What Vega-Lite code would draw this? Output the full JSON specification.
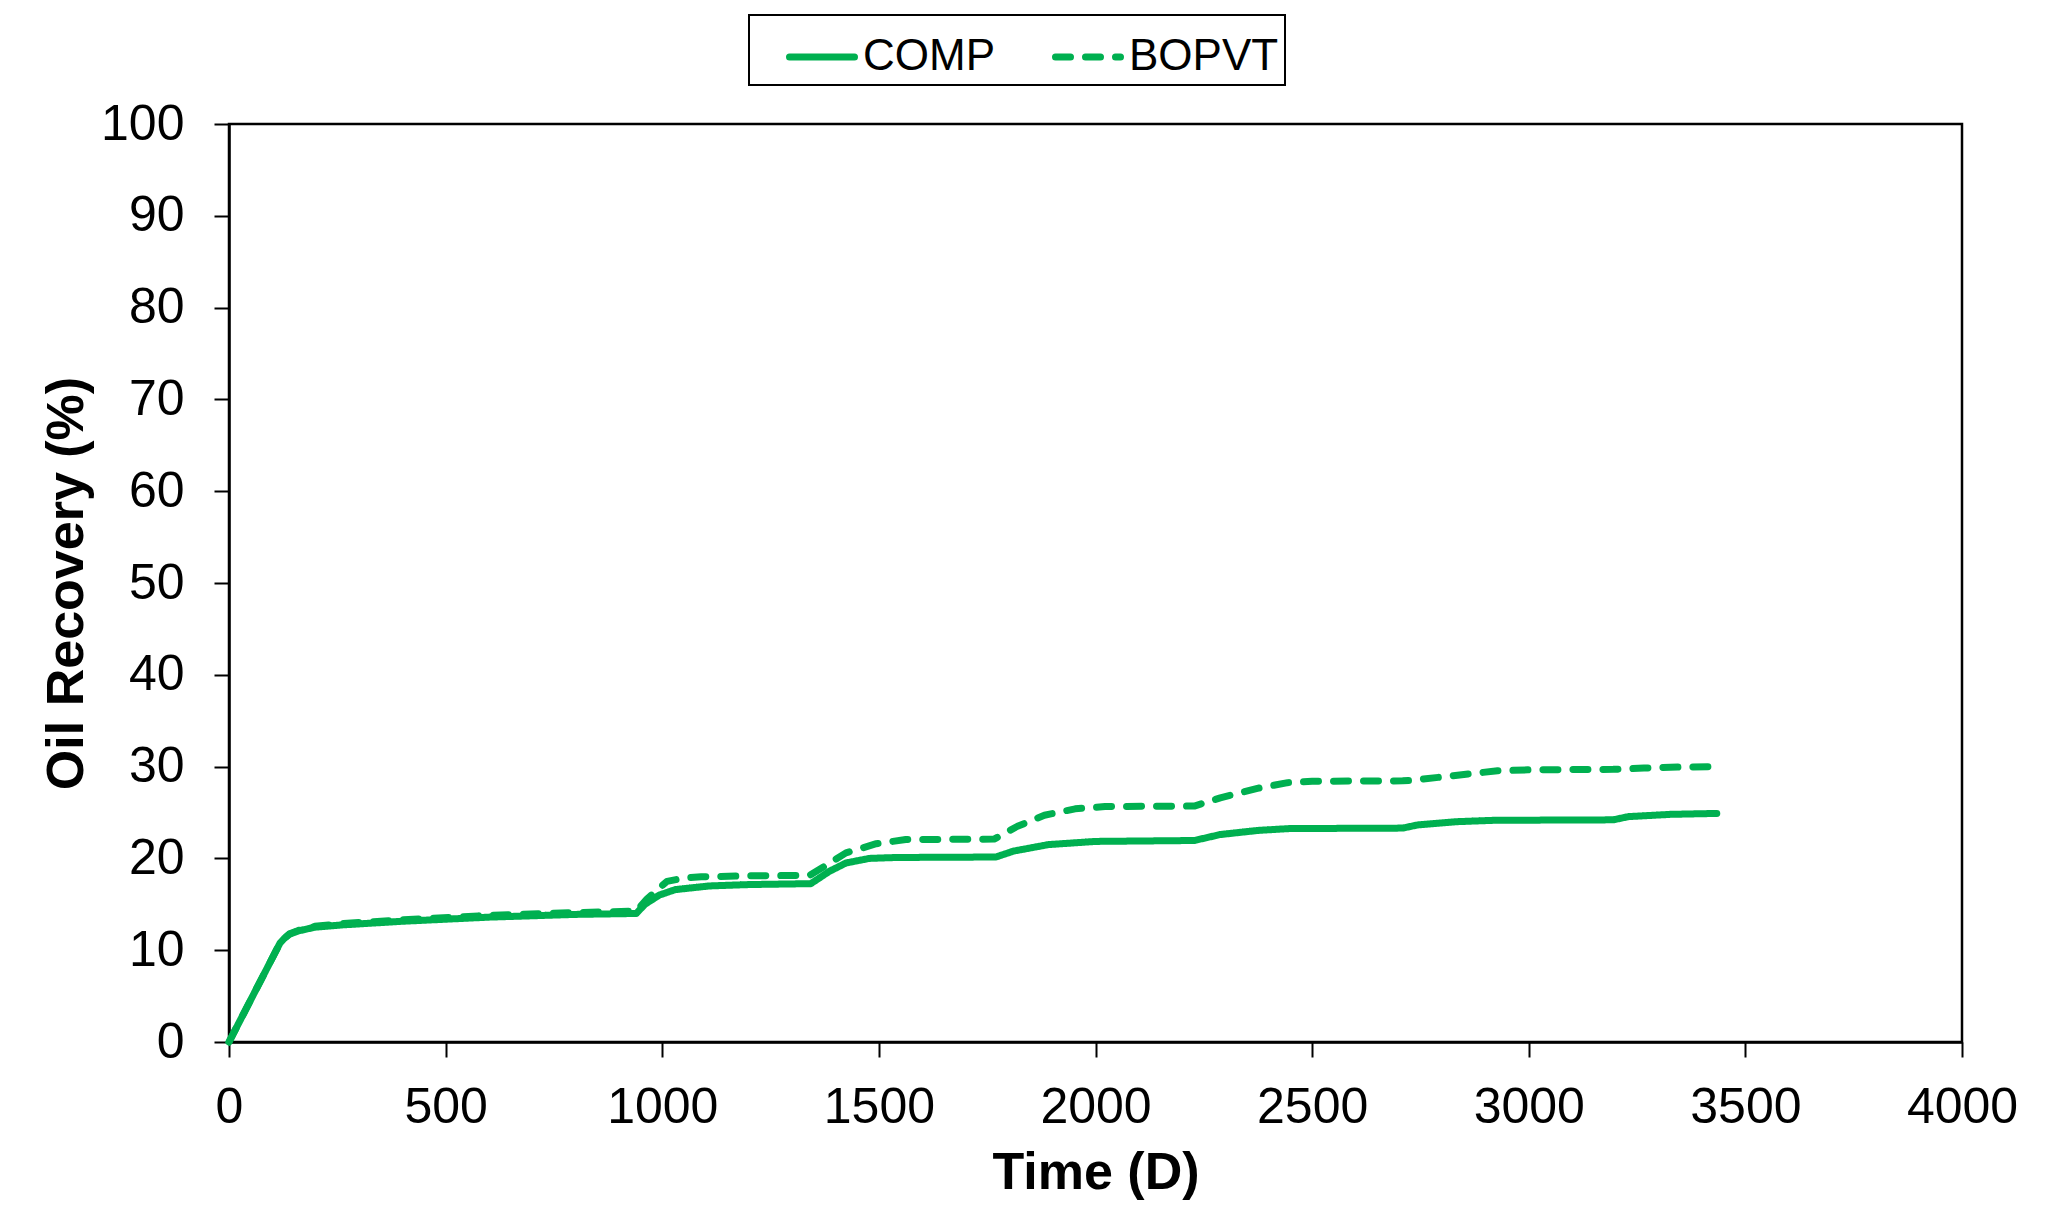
{
  "$schema": "https://vega.github.io/schema/vega-lite/v6.json",
  "width": 1733,
  "height": 918,
  "autosize": {"type": "none"},
  "padding": {"left": 229, "top": 124, "right": 86, "bottom": 189},
  "background": "white",
  "data": {
    "values": [
      {"t": 0, "r": 0, "s": "COMP"},
      {"t": 118, "r": 10.8, "s": "COMP"},
      {"t": 128, "r": 11.3, "s": "COMP"},
      {"t": 140, "r": 11.75, "s": "COMP"},
      {"t": 160, "r": 12.1, "s": "COMP"},
      {"t": 198, "r": 12.5, "s": "COMP"},
      {"t": 260, "r": 12.75, "s": "COMP"},
      {"t": 400, "r": 13.15, "s": "COMP"},
      {"t": 600, "r": 13.6, "s": "COMP"},
      {"t": 800, "r": 13.9, "s": "COMP"},
      {"t": 940, "r": 14.0, "s": "COMP"},
      {"t": 960, "r": 15.0, "s": "COMP"},
      {"t": 993, "r": 16.0, "s": "COMP"},
      {"t": 1030, "r": 16.6, "s": "COMP"},
      {"t": 1109, "r": 17.0, "s": "COMP"},
      {"t": 1200, "r": 17.15, "s": "COMP"},
      {"t": 1343, "r": 17.25, "s": "COMP"},
      {"t": 1386, "r": 18.6, "s": "COMP"},
      {"t": 1424, "r": 19.5, "s": "COMP"},
      {"t": 1478, "r": 20.0, "s": "COMP"},
      {"t": 1540, "r": 20.1, "s": "COMP"},
      {"t": 1770, "r": 20.15, "s": "COMP"},
      {"t": 1811, "r": 20.8, "s": "COMP"},
      {"t": 1891, "r": 21.5, "s": "COMP"},
      {"t": 2000, "r": 21.85, "s": "COMP"},
      {"t": 2228, "r": 21.95, "s": "COMP"},
      {"t": 2288, "r": 22.6, "s": "COMP"},
      {"t": 2376, "r": 23.05, "s": "COMP"},
      {"t": 2448, "r": 23.25, "s": "COMP"},
      {"t": 2709, "r": 23.3, "s": "COMP"},
      {"t": 2744, "r": 23.65, "s": "COMP"},
      {"t": 2833, "r": 24.0, "s": "COMP"},
      {"t": 2921, "r": 24.15, "s": "COMP"},
      {"t": 3195, "r": 24.2, "s": "COMP"},
      {"t": 3230, "r": 24.55, "s": "COMP"},
      {"t": 3328, "r": 24.8, "s": "COMP"},
      {"t": 3434, "r": 24.9, "s": "COMP"},
      {"t": 0, "r": 0, "s": "BOPVT"},
      {"t": 118, "r": 10.8, "s": "BOPVT"},
      {"t": 128, "r": 11.3, "s": "BOPVT"},
      {"t": 140, "r": 11.8, "s": "BOPVT"},
      {"t": 160, "r": 12.15, "s": "BOPVT"},
      {"t": 198, "r": 12.6, "s": "BOPVT"},
      {"t": 260, "r": 12.9, "s": "BOPVT"},
      {"t": 400, "r": 13.3, "s": "BOPVT"},
      {"t": 600, "r": 13.8, "s": "BOPVT"},
      {"t": 800, "r": 14.1, "s": "BOPVT"},
      {"t": 940, "r": 14.25, "s": "BOPVT"},
      {"t": 965, "r": 15.6, "s": "BOPVT"},
      {"t": 1011, "r": 17.5, "s": "BOPVT"},
      {"t": 1050, "r": 17.85, "s": "BOPVT"},
      {"t": 1090, "r": 18.0, "s": "BOPVT"},
      {"t": 1200, "r": 18.1, "s": "BOPVT"},
      {"t": 1340, "r": 18.15, "s": "BOPVT"},
      {"t": 1370, "r": 19.0, "s": "BOPVT"},
      {"t": 1424, "r": 20.6, "s": "BOPVT"},
      {"t": 1494, "r": 21.6, "s": "BOPVT"},
      {"t": 1562, "r": 22.05, "s": "BOPVT"},
      {"t": 1766, "r": 22.1, "s": "BOPVT"},
      {"t": 1820, "r": 23.5, "s": "BOPVT"},
      {"t": 1882, "r": 24.7, "s": "BOPVT"},
      {"t": 1953, "r": 25.4, "s": "BOPVT"},
      {"t": 2022, "r": 25.65, "s": "BOPVT"},
      {"t": 2228, "r": 25.7, "s": "BOPVT"},
      {"t": 2288, "r": 26.6, "s": "BOPVT"},
      {"t": 2376, "r": 27.65, "s": "BOPVT"},
      {"t": 2444, "r": 28.25, "s": "BOPVT"},
      {"t": 2500, "r": 28.4, "s": "BOPVT"},
      {"t": 2709, "r": 28.45, "s": "BOPVT"},
      {"t": 2727, "r": 28.5, "s": "BOPVT"},
      {"t": 2796, "r": 28.85, "s": "BOPVT"},
      {"t": 2863, "r": 29.2, "s": "BOPVT"},
      {"t": 2928, "r": 29.55, "s": "BOPVT"},
      {"t": 3000, "r": 29.65, "s": "BOPVT"},
      {"t": 3195, "r": 29.7, "s": "BOPVT"},
      {"t": 3266, "r": 29.85, "s": "BOPVT"},
      {"t": 3350, "r": 29.95, "s": "BOPVT"},
      {"t": 3434, "r": 30.0, "s": "BOPVT"}
    ]
  },
  "mark": {
    "type": "line",
    "color": "#00B050",
    "strokeWidth": 7,
    "strokeCap": "round",
    "strokeJoin": "round"
  },
  "encoding": {
    "x": {
      "field": "t",
      "type": "quantitative",
      "title": "Time (D)",
      "scale": {"domain": [0, 4000], "nice": false},
      "axis": {
        "values": [0, 500, 1000, 1500, 2000, 2500, 3000, 3500, 4000],
        "format": "d",
        "labelFlush": false,
        "labelOverlap": false,
        "labelPadding": 25,
        "titleY": 146,
        "titleBaseline": "alphabetic"
      }
    },
    "y": {
      "field": "r",
      "type": "quantitative",
      "title": "Oil Recovery (%)",
      "scale": {"domain": [0, 100], "nice": false},
      "axis": {
        "values": [0, 10, 20, 30, 40, 50, 60, 70, 80, 90, 100],
        "format": "d",
        "labelFlush": false,
        "labelOverlap": false,
        "labelPadding": 30,
        "titleX": -163,
        "titleY": 459,
        "titleAngle": -90,
        "titleBaseline": "middle",
        "titleAlign": "center"
      }
    },
    "strokeDash": {
      "field": "s",
      "type": "nominal",
      "title": null,
      "scale": {"domain": ["COMP", "BOPVT"], "range": [[1, 0], [15, 15]]},
      "legend": {
        "orient": "none",
        "legendX": 520,
        "legendY": -109,
        "direction": "horizontal",
        "strokeColor": "black",
        "padding": 6,
        "fillColor": "white",
        "symbolType": "stroke",
        "symbolSize": 4225,
        "symbolStrokeWidth": 7,
        "symbolStrokeColor": "#00B050",
        "symbolOffset": 31,
        "labelOffset": 5,
        "columnPadding": 26,
        "labelFont": "Liberation Sans",
        "labelFontSize": 44,
        "labelColor": "black",
        "encode": {
          "legend": {"update": {"strokeWidth": {"value": 2}}},
          "symbols": {"update": {"strokeCap": {"value": "round"}}}
        }
      }
    }
  },
  "config": {
    "font": "Liberation Sans",
    "view": {"stroke": "black", "strokeWidth": 2.5},
    "axis": {
      "grid": false,
      "domainColor": "black",
      "domainWidth": 2.5,
      "tickColor": "black",
      "tickWidth": 2,
      "tickSize": 15,
      "labelFont": "Liberation Sans",
      "labelFontSize": 50,
      "labelColor": "black",
      "titleFont": "Liberation Sans",
      "titleFontSize": 52,
      "titleFontWeight": "bold",
      "titleColor": "black"
    }
  }
}
